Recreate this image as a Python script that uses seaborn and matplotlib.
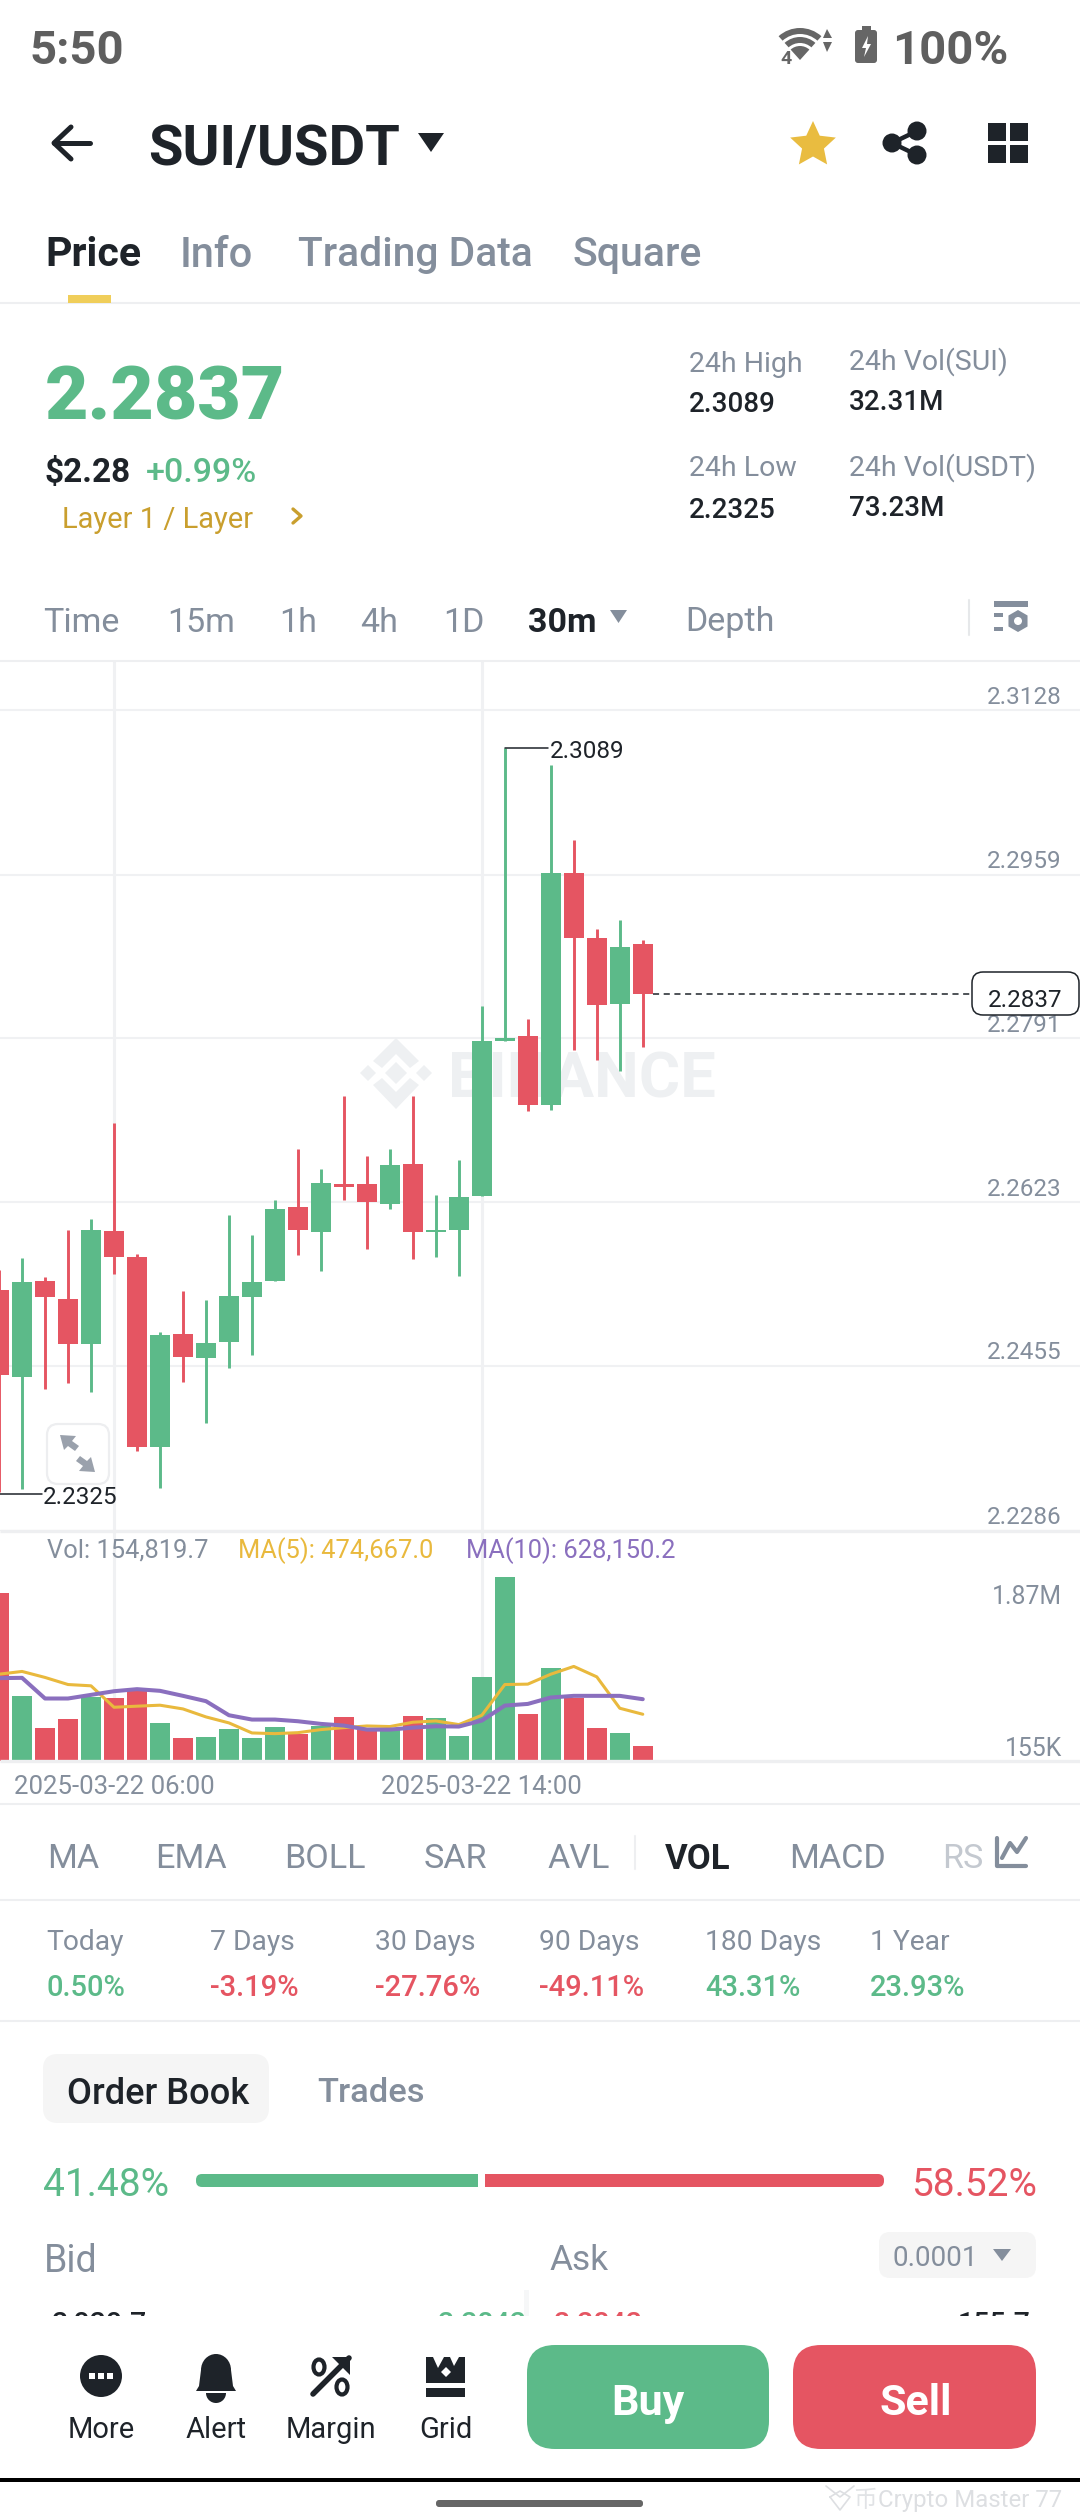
import matplotlib
matplotlib.use('Agg')
import matplotlib.pyplot as plt
import matplotlib.patches as mpatches
import numpy as np
import pandas as pd
import seaborn as sns

# ---- data ----
candle_idx = list(range(-1, 28))
candle_open = [2.2533, 2.2444, 2.2542, 2.2524, 2.2477, 2.2593, 2.2567, 2.2372, 2.2488, 2.2463, 2.2479, 2.2526, 2.2542, 2.2618, 2.2592,
               2.2642, 2.2642, 2.2621, 2.2662, 2.2592, 2.2594, 2.2629, 2.2788, 2.2793, 2.2723, 2.2961, 2.2894, 2.2826, 2.2888]
candle_close = [2.2446, 2.2541, 2.2526, 2.2477, 2.2594, 2.2567, 2.2372, 2.2487, 2.2464, 2.2478, 2.2527, 2.2541, 2.2616, 2.2594, 2.2643,
                2.2639, 2.2623, 2.2661, 2.2592, 2.2594, 2.2628, 2.2788, 2.2791, 2.2723, 2.2961, 2.2894, 2.2825, 2.2885, 2.2837]
candle_high = [2.2553, 2.2566, 2.2546, 2.2594, 2.2606, 2.2704, 2.2570, 2.2490, 2.2532, 2.2523, 2.2610, 2.2589, 2.2625, 2.2678, 2.2657,
               2.2732, 2.2670, 2.2677, 2.2732, 2.2630, 2.2666, 2.2824, 2.3089, 2.2811, 2.3072, 2.2995, 2.2903, 2.2913, 2.2892]
candle_low = [2.2325, 2.2329, 2.2431, 2.2437, 2.2428, 2.2549, 2.2368, 2.2330, 2.2438, 2.2396, 2.2453, 2.2466, 2.2542, 2.2569, 2.2552,
              2.2625, 2.2575, 2.2616, 2.2565, 2.2567, 2.2547, 2.2629, 2.2788, 2.2716, 2.2718, 2.2779, 2.2769, 2.2758, 2.2782]
volume = [1711, 658, 339, 431, 652, 645, 709, 384, 234, 248, 322, 231, 350, 278, 360,
          448, 329, 319, 455, 441, 251, 855, 1870, 482, 950, 638, 339, 285, 155]
ma5 = [882, 910, 849, 777, 764, 546, 557, 567, 529, 448, 387, 285, 278, 288, 319,
       339, 356, 350, 394, 407, 370, 465, 777, 781, 882, 961, 855, 536, 475]
ma10 = [842, 845, 635, 635, 672, 709, 730, 713, 662, 608, 465, 421, 421, 404, 377,
        360, 319, 319, 339, 353, 350, 411, 563, 580, 645, 662, 662, 662, 628]
price_ticks = [2.3128, 2.2959, 2.2791, 2.2623, 2.2455, 2.2286]
time_ticks = [4, 20]
time_labels = ['2025-03-22 06:00', '2025-03-22 14:00']
period_names = ['Today', '7 Days', '30 Days', '90 Days', '180 Days', '1 Year']
period_values = ['0.50%', '-3.19%', '-27.76%', '-49.11%', '43.31%', '23.93%']
indicator_names = ['MA', 'EMA', 'BOLL', 'SAR', 'AVL', 'VOL', 'MACD']
interval_names = ['Time', '15m', '1h', '4h', '1D', '30m', 'Depth']
buy_share = 41.48
sell_share = 58.52

GREEN = '#5CBA89'
RED = '#E55562'
DARK = '#1E2329'
GRAY = '#848E9C'
GRID = '#F0F1F3'
YELLOW = '#E9B93D'
PURPLE = '#8A6FBE'

sns.set_theme(style='white')
plt.rcParams['font.family'] = ['Roboto', 'DejaVu Sans']

W, H = 1080, 2520
fig = plt.figure(figsize=(W / 100, H / 100), dpi=100, facecolor='white')


def axes_px(top, bottom):
    return fig.add_axes([0, 1 - bottom / H, 1, (bottom - top) / H])


# candle i sits at 22 + 22.99 * i px
xlim = (-22.04 / 22.99, (1080 - 22.04) / 22.99)

# ---- price panel ----
ax = axes_px(661, 1530.5)
per_px = (price_ticks[0] - price_ticks[-1]) / (1530.5 - 710)
ax.set_xlim(xlim)
ax.set_ylim(price_ticks[-1], price_ticks[0] + per_px * (710 - 661))
ax.set_axis_off()
for p in price_ticks:
    ax.axhline(p, color=GRID, lw=1.5, zorder=1)
    ax.text(1062 / W, p + per_px * 1.5, f'{p:.4f}', transform=ax.get_yaxis_transform(), ha='right', va='bottom',
            color=GRAY, fontsize=17.5)
for t in time_ticks:
    ax.axvline(t, color=GRID, lw=2.2, zorder=1)

colors = [GREEN if c >= o else RED for o, c in zip(candle_open, candle_close)]
ax.vlines(candle_idx, candle_low, candle_high, colors=colors, lw=2.1, zorder=3)
tops = np.maximum(candle_open, candle_close)
bots = np.minimum(candle_open, candle_close)
ax.bar(candle_idx, tops - bots, bottom=bots, width=0.87, color=colors, linewidth=0, zorder=4)

# ---- volume panel ----
vax = axes_px(1530.5, 1761)
vol_df = pd.DataFrame({'idx': candle_idx, 'volume': np.array(volume) * 1000.0,
                       'ma5': np.array(ma5) * 1000.0, 'ma10': np.array(ma10) * 1000.0,
                       'side': ['up' if c == GREEN else 'down' for c in colors]})
sns.barplot(data=vol_df, x='idx', y='volume', hue='side', palette={'up': GREEN, 'down': RED}, dodge=False,
            native_scale=True, width=0.87, saturation=1, legend=False, linewidth=0, ax=vax, zorder=3)
sns.lineplot(data=vol_df, x='idx', y='ma5', color=YELLOW, lw=2.2, errorbar=None, legend=False, ax=vax, zorder=4)
sns.lineplot(data=vol_df, x='idx', y='ma10', color=PURPLE, lw=2.9, errorbar=None, legend=False, ax=vax, zorder=5)
vax.set_xlim(xlim)
vax.set_ylim(0, 2.342e6)
vax.set_axis_off()
for t in time_ticks:
    vax.axvline(t, color=GRID, lw=2.2, zorder=1)

# ---- everything around the chart, in screen pixels ----
ui = fig.add_axes([0, 0, 1, 1], facecolor='none')
ui.set_xlim(0, W)
ui.set_ylim(H, 0)
ui.set_axis_off()


def label(x, y, s, color=DARK, size=20, weight='normal', ha='left', **kw):
    return ui.text(x, y, s, color=color, fontsize=size, fontweight=weight, ha=ha, va='center_baseline', **kw)


def hline(y, color='#EEEFF1', lw=1.5, x0=0, x1=W, **kw):
    ui.plot([x0, x1], [y, y], color=color, lw=lw, solid_capstyle='butt', **kw)


def rbox(x0, y0, x1, y1, r, fc, ec='none', lw=0, z=2):
    ui.add_patch(mpatches.FancyBboxPatch((x0 + r, y0 + r), x1 - x0 - 2 * r, y1 - y0 - 2 * r,
                                         boxstyle=f'round,pad={r},rounding_size={r}', fc=fc, ec=ec, lw=lw, zorder=z))


def poly(points, color, z=3, **kw):
    ui.add_patch(mpatches.Polygon(points, closed=True, fc=color, ec='none', zorder=z, **kw))


def diamond(cx, cy, r, color, z=1):
    poly([(cx - r, cy), (cx, cy - r), (cx + r, cy), (cx, cy + r)], color, z)


# status bar
label(29, 46, '5:50', '#5F5F5F', 34, 'bold')
label(892, 46, '100%', '#5F5F5F', 34, 'bold')
for r, wd in [(32, 6), (23, 6), (14, 14)]:
    ui.add_patch(mpatches.Wedge((800, 60), r, 228, 312, width=wd, fc='#666666', ec='none'))
label(780, 57, '4', '#666666', 14, 'bold')
poly([(827, 29), (832, 38), (823, 38)], '#666666')
poly([(827, 52), (832, 42), (823, 42)], '#666666')
rbox(855, 30, 877, 63, 3, '#666666')
ui.add_patch(mpatches.Rectangle((862, 26), 9, 5, fc='#666666', ec='none'))
poly([(868, 36), (862, 48), (866, 48), (864, 57), (871, 44), (867, 44)], 'white', 4)

# header
ui.plot([90, 54], [143, 143], color=DARK, lw=3.6)
ui.plot([71, 54, 71], [127, 143, 159], color=DARK, lw=3.6)
label(148, 144, 'SUI/USDT', DARK, 40.5, 'bold')
poly([(418, 133), (444, 133), (431, 152)], DARK)
ang = np.deg2rad(np.arange(0, 360, 36) - 90)
rad = np.tile([24, 11.5], 5)
poly(np.column_stack([813 + rad * np.cos(ang), 145 + rad * np.sin(ang)]), '#E9BC40')
for cx, cy in [(917, 131), (892, 143), (917, 155)]:
    ui.add_patch(mpatches.Circle((cx, cy), 9.5, fc=DARK, ec='none'))
ui.plot([917, 892, 917], [131, 143, 155], color=DARK, lw=3.2)
for cx, cy in [(988, 123), (1010, 123), (988, 145), (1010, 145)]:
    ui.add_patch(mpatches.Rectangle((cx, cy), 18, 18, fc=DARK, ec='none'))

# tabs
label(45, 251, 'Price', DARK, 29.5, 'bold')
label(180, 251, 'Info', GRAY, 30, 'medium')
label(298, 251, 'Trading Data', GRAY, 29.3, 'medium')
label(573, 251, 'Square', GRAY, 29.5, 'medium')
ui.add_patch(mpatches.Rectangle((68, 295), 43, 8, fc='#F0CE5A', ec='none', zorder=3))
hline(303)

# ticker block
label(45, 392, '2.2837', GREEN, 54, 'heavy')
label(45, 470, '$2.28', DARK, 24, 'bold')
label(146, 470, '+0.99%', GREEN, 24.5, 'medium')
label(62, 517, 'Layer 1 / Layer', '#C99F2E', 21)
ui.plot([293, 301, 293], [509, 516, 523], color='#C99F2E', lw=2.4)
label(689, 362, '24h High', GRAY, 20.5)
label(689, 402, '2.3089', DARK, 20, 'medium')
label(689, 466, '24h Low', GRAY, 20.5)
label(689, 507, '2.2325', DARK, 20, 'medium')
label(849, 358, '24h Vol(SUI)', GRAY, 20.5)
label(849, 400, '32.31M', DARK, 20, 'medium')
label(849, 464, '24h Vol(USDT)', GRAY, 20.5)
label(849, 505, '73.23M', DARK, 20, 'medium')

# interval row
for x, name in zip([43, 167, 279, 360, 443, 528, 685], interval_names):
    if name == '30m':
        label(x, 619, name, DARK, 24.5, 'bold')
    else:
        label(x, 619, name, GRAY, 24.5)
poly([(610, 610), (627, 610), (618.5, 623)], GRAY)
ui.plot([969, 969], [600, 635], color='#E6E8EA', lw=1.5)
ui.add_patch(mpatches.Rectangle((994, 601), 34, 6, fc=GRAY, ec='none'))
ui.add_patch(mpatches.Rectangle((994, 613), 9, 4, fc=GRAY, ec='none'))
ui.add_patch(mpatches.Rectangle((994, 627), 9, 4, fc=GRAY, ec='none'))
ui.add_patch(mpatches.RegularPolygon((1018, 621), 6, radius=11, fc=GRAY, ec='none'))
ui.add_patch(mpatches.Circle((1018, 621), 4, fc='white', ec='none', zorder=3))
hline(661, lw=1.5)

# watermark, under the candles in the price panel
wm = '#EEF0F2'
for cx, cy, r in [(396, 1073, 11), (368, 1073, 8), (424, 1073, 8)]:
    ax.add_patch(mpatches.Polygon([(cx - r, cy), (cx, cy - r), (cx + r, cy), (cx, cy + r)], fc=wm, ec='none',
                                  transform=ui.transData, zorder=2))
ax.add_patch(mpatches.Polygon([(396, 1038), (419, 1061), (410, 1068), (396, 1054), (382, 1068), (373, 1061)], fc=wm,
                              ec='none', transform=ui.transData, zorder=2))
ax.add_patch(mpatches.Polygon([(396, 1109), (419, 1085), (410, 1078), (396, 1092), (382, 1078), (373, 1085)], fc=wm,
                              ec='none', transform=ui.transData, zorder=2))
ax.text(448, 1074, 'BINANCE', color=wm, fontsize=45.5, fontweight='bold', transform=ui.transData, va='center_baseline',
        zorder=2)

# high / low tags
ui.plot([505, 548], [748, 748], color=DARK, lw=1.1)
label(550, 749, '2.3089', DARK, 17.5)
ui.plot([0, 42], [1494, 1494], color=DARK, lw=1.1)
label(43, 1495, '2.2325', DARK, 17.5)

# last price tag
ui.plot([653, 971], [993.5, 993.5], color=DARK, lw=1.1, dashes=(4, 3))
rbox(972, 972, 1079, 1015, 11, 'white', ec=DARK, lw=1.1, z=3)
ui.text(1062, 998, '2.2837', color=DARK, fontsize=17.5, ha='right', va='center_baseline', zorder=4)

# expand button
rbox(47, 1424, 109, 1484, 11, 'white', ec='#EDEEF0', lw=1.6)
poly([(60, 1435), (76, 1436), (72, 1441), (79, 1446), (75, 1451), (68, 1446), (64, 1450)], '#9AA1AC')
poly([(95, 1472), (79, 1471), (83, 1466), (76, 1461), (80, 1456), (87, 1461), (91, 1457)], '#9AA1AC')

# volume legend + axis text
label(47, 1548, 'Vol: 154,819.7', GRAY, 18.4)
label(238, 1548, 'MA(5): 474,667.0', YELLOW, 18.4)
label(466, 1548, 'MA(10): 628,150.2', PURPLE, 18.4)
label(1062, 1594, '1.87M', GRAY, 17.8, ha='right')
label(1062, 1747, '155K', GRAY, 17.8, ha='right')
hline(1530.5, lw=2.4)
hline(1761, lw=2.4)
for t, s in zip(time_ticks, time_labels):
    label(22.04 + 22.99 * t, 1784, s, GRAY, 18.5, ha='center')
hline(1804, lw=1.5)

# indicator row
for x, name in zip([47, 155, 284, 424, 548, 665, 789], indicator_names):
    if name == 'VOL':
        label(x, 1856, name, DARK, 25, 'bold')
    else:
        label(x, 1856, name, GRAY, 24.6)
label(942, 1856, 'RS', '#C4C9D0', 24.6)
ui.add_patch(mpatches.Rectangle((990, 1830), 50, 50, fc='white', ec='none', zorder=3))
ui.plot([635, 635], [1836, 1869], color='#EEEFF1', lw=1.5)
ui.plot([997, 997, 1026], [1838, 1866, 1866], color=GRAY, lw=3, zorder=4)
ui.plot([1002, 1010, 1017, 1026], [1858, 1843, 1852, 1838], color=GRAY, lw=3, zorder=4)
hline(1900)

# period performance
for x, name, val in zip([46, 210, 375, 539, 705, 870], period_names, period_values):
    label(x, 1939, name, GRAY, 20.3)
    label(x, 1985, val, RED if val.startswith('-') else GREEN, 21, 'medium')
hline(2021)

# order book
rbox(43, 2054, 269, 2123, 15, '#F5F5F5')
label(67, 2090, 'Order Book', DARK, 26, 'medium', zorder=3)
label(317, 2090, 'Trades', GRAY, 24.8, 'medium')
label(43, 2182, f'{buy_share:.2f}%', GREEN, 28)
label(1037, 2182, f'{sell_share:.2f}%', RED, 28, ha='right')
# split bar scaled from the two shares
bar_x0, bar_x1, gap = 196, 884, 7
bar_mid = bar_x0 + (bar_x1 - bar_x0 - gap) * buy_share / (buy_share + sell_share)
rbox(bar_x0, 2174, bar_mid + 10, 2187, 6, GREEN)
rbox(bar_mid + gap - 10, 2174, bar_x1, 2187, 6, RED)
ui.add_patch(mpatches.Rectangle((bar_mid - 10, 2174), 10, 13, fc=GREEN, ec='none', zorder=3))
ui.add_patch(mpatches.Rectangle((bar_mid, 2174), gap, 13, fc='white', ec='none', zorder=3))
ui.add_patch(mpatches.Rectangle((bar_mid + gap, 2174), 10, 13, fc=RED, ec='none', zorder=3))
label(44, 2257, 'Bid', GRAY, 27)
label(550, 2257, 'Ask', GRAY, 25.5)
rbox(879, 2232, 1036, 2278, 11, '#F5F5F5')
label(892, 2256, '0.0001', GRAY, 20, zorder=3)
poly([(993, 2249), (1011, 2249), (1002, 2261)], GRAY)

# first order book row, cut off by the bottom bar
label(52, 2321, '2,020.7', DARK, 20.5, 'medium')
label(527, 2321, '2.2842', GREEN, 20.5, 'medium', ha='right')
label(554, 2321, '2.2842', RED, 20.5, 'medium')
label(1030, 2321, '155.7', DARK, 20.5, 'medium', ha='right')
ui.add_patch(mpatches.Rectangle((0, 2316), W, 204, fc='white', ec='none', zorder=5))
ui.add_patch(mpatches.Rectangle((524, 2290), 5, 26, fc='#F6F7F8', ec='none', zorder=0.5))

# bottom bar
Z = 6
ui.add_patch(mpatches.Circle((101, 2376), 21, fc=DARK, ec='none', zorder=Z))
for dx in [-9, 0, 9]:
    ui.add_patch(mpatches.Rectangle((101 + dx - 3, 2373), 6, 6, fc='white', ec='none', zorder=Z + 1))
ui.add_patch(mpatches.Ellipse((216, 2370), 30, 32, fc=DARK, ec='none', zorder=Z))
poly([(201, 2370), (231, 2370), (233, 2386), (236, 2391), (196, 2391), (199, 2386)], DARK, Z)
ui.add_patch(mpatches.Wedge((216, 2393), 10, 0, 180, fc=DARK, ec='none', zorder=Z))
ui.plot([313, 349], [2394, 2358], color=DARK, lw=4, zorder=Z)
poly([(332, 2357), (350, 2357), (350, 2375)], DARK, Z)
ui.add_patch(mpatches.Ellipse((319, 2367), 11, 15, fc='white', ec=DARK, lw=3, zorder=Z))
ui.add_patch(mpatches.Ellipse((342, 2387), 11, 15, fc='white', ec=DARK, lw=3, zorder=Z))
ui.add_patch(mpatches.Rectangle((426, 2357), 39, 26, fc=DARK, ec='none', zorder=Z))
poly([(433, 2357), (444, 2357), (438, 2368)], 'white', Z + 1)
poly([(450, 2357), (459, 2357), (454, 2366)], 'white', Z + 1)
diamond(446, 2372, 5, 'white', Z + 1)
ui.add_patch(mpatches.Rectangle((426, 2388), 39, 9, fc=DARK, ec='none', zorder=Z))
for x, s in zip([101, 216, 331, 446], ['More', 'Alert', 'Margin', 'Grid']):
    label(x, 2427, s, DARK, 21, ha='center', zorder=Z)
rbox(527, 2345, 769, 2449, 28, GREEN, z=Z)
rbox(793, 2345, 1036, 2449, 28, RED, z=Z)
label(648, 2399, 'Buy', 'white', 31, 'bold', ha='center', zorder=Z + 1)
label(916, 2399, 'Sell', 'white', 31, 'bold', ha='center', zorder=Z + 1)

ui.add_patch(mpatches.Rectangle((0, 2478), W, 3.5, fc='black', ec='none', zorder=Z))
rbox(436, 2500, 643, 2507, 3, '#666666', z=Z)

# screenshot watermark
label(878, 2498, 'Crypto Master 77', '#DDDFE2', 17.3, zorder=Z)
ui.text(865, 2498, '币', color='#E1E3E6', fontsize=17, ha='center', va='center_baseline', zorder=Z,
        family=['Noto Sans CJK SC', 'DejaVu Sans'])
ui.plot([826, 840, 854], [2486, 2497, 2486], color='#DDDFE2', lw=1.2, zorder=Z)
ui.plot([830, 840, 850, 840, 830], [2497, 2510, 2497, 2491, 2497], color='#DDDFE2', lw=1.2, zorder=Z)

fig.savefig('out.png', dpi=100, facecolor='white')
